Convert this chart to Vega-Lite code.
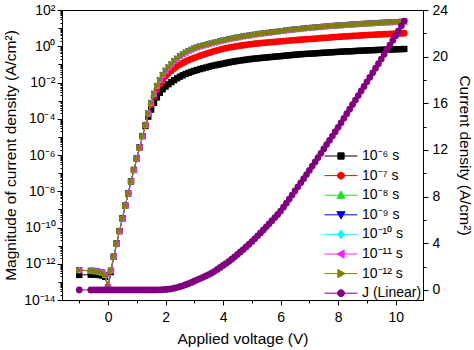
{
"$schema": "https://vega.github.io/schema/vega-lite/v6.json",
"width": 361, "height": 290,
"autosize": {"type": "none"},
"padding": {"left": 62, "top": 10, "right": 51, "bottom": 50},
"config": {
  "font": "Liberation Sans",
  "view": {"stroke": "black", "strokeWidth": 1},
  "axis": {"labelFont": "Liberation Sans", "labelFontSize": 14, "labelColor": "black", "titleFont": "Liberation Sans", "titleFontSize": 15.5, "titleFontWeight": "normal", "titleColor": "black", "domainColor": "black", "tickColor": "black", "grid": false, "labelOverlap": false, "labelFlush": false}
},
"data": {"values": [
{"V":-1,"a":2.4e-13,"b":4.4e-13,"c":4.4e-13},
{"V":-0.6,"a":2.5e-13,"b":4.1e-13,"c":4.1e-13},
{"V":-0.5,"a":2.5e-13,"b":4.0e-13,"c":4.0e-13},
{"V":-0.4,"a":2.5e-13,"b":3.8e-13,"c":3.8e-13},
{"V":-0.3,"a":2.4e-13,"b":3.5e-13,"c":3.5e-13},
{"V":-0.2,"a":2.2e-13,"b":3.2e-13,"c":3.2e-13},
{"V":-0.1,"a":1.9e-13,"b":2.4e-13,"c":2.4e-13},
{"V":0,"a":4.5e-14,"b":5e-14,"c":5e-14},
{"V":0.1,"a":3.5e-13,"b":4.2e-13,"c":4.2e-13},
{"V":0.2,"a":2.4e-12,"b":2.5e-12,"c":2.5e-12},
{"V":0.3,"a":1.3e-11,"b":1.3e-11,"c":1.3e-11},
{"V":0.4,"a":6.3e-11,"b":6.3e-11,"c":6.3e-11},
{"V":0.5,"a":3.2e-10,"b":3.2e-10,"c":3.2e-10},
{"V":0.6,"a":1.6e-9,"b":1.6e-9,"c":1.6e-9},
{"V":0.7,"a":7.6e-9,"b":7.6e-9,"c":7.6e-9},
{"V":0.8,"a":3.5e-8,"b":3.5e-8,"c":3.5e-8},
{"V":0.9,"a":1.5e-7,"b":1.5e-7,"c":1.5e-7},
{"V":1.0,"a":6.3e-7,"b":6.3e-7,"c":6.3e-7},
{"V":1.1,"a":2.6e-6,"b":2.6e-6,"c":2.6e-6},
{"V":1.2,"a":1.1e-5,"b":1.1e-5,"c":1.1e-5},
{"V":1.3,"a":4.0e-5,"b":4.3e-5,"c":4.5e-5},
{"V":1.4,"a":1.3e-4,"b":1.8e-4,"c":2.0e-4},
{"V":1.5,"a":3.2e-4,"b":6.0e-4,"c":7.5e-4},
{"V":1.6,"a":7.5e-4,"b":1.7e-3,"c":2.4e-3},
{"V":1.7,"a":1.5e-3,"b":4.0e-3,"c":6.5e-3},
{"V":1.8,"a":2.7e-3,"b":8.0e-3,"c":0.014},
{"V":1.9,"a":4.2e-3,"b":0.014,"c":0.026},
{"V":2.0,"a":6.0e-3,"b":0.022,"c":0.045},
{"V":2.1,"a":8.0e-3,"b":0.032,"c":0.068},
{"V":2.2,"a":0.0105,"b":0.045,"c":0.1},
{"V":2.3,"a":0.0135,"b":0.06,"c":0.15},
{"V":2.4,"a":0.017,"b":0.078,"c":0.21},
{"V":2.5,"a":0.021,"b":0.098,"c":0.28},
{"V":2.6,"a":0.025,"b":0.12,"c":0.36},
{"V":2.7,"a":0.0295,"b":0.145,"c":0.45},
{"V":2.8,"a":0.034,"b":0.172,"c":0.55},
{"V":2.9,"a":0.039,"b":0.2,"c":0.65},
{"V":3.0,"a":0.044,"b":0.23,"c":0.76},
{"V":3.1,"a":0.049,"b":0.26,"c":0.87},
{"V":3.2,"a":0.055,"b":0.3,"c":0.98},
{"V":3.3,"a":0.061,"b":0.34,"c":1.09},
{"V":3.4,"a":0.067,"b":0.38,"c":1.2},
{"V":3.5,"a":0.074,"b":0.43,"c":1.32},
{"V":3.6,"a":0.081,"b":0.48,"c":1.45},
{"V":3.7,"a":0.088,"b":0.54,"c":1.6},
{"V":3.8,"a":0.095,"b":0.6,"c":1.76},
{"V":3.9,"a":0.102,"b":0.66,"c":1.93},
{"V":4.0,"a":0.11,"b":0.72,"c":2.10},
{"V":4.1,"a":0.119,"b":0.78,"c":2.27},
{"V":4.2,"a":0.128,"b":0.84,"c":2.45},
{"V":4.3,"a":0.137,"b":0.9,"c":2.64},
{"V":4.4,"a":0.146,"b":0.96,"c":2.84},
{"V":4.5,"a":0.155,"b":1.02,"c":3.05},
{"V":4.6,"a":0.164,"b":1.08,"c":3.26},
{"V":4.7,"a":0.173,"b":1.14,"c":3.47},
{"V":4.8,"a":0.182,"b":1.2,"c":3.69},
{"V":4.9,"a":0.191,"b":1.26,"c":3.92},
{"V":5.0,"a":0.2,"b":1.32,"c":4.15},
{"V":5.1,"a":0.208,"b":1.38,"c":4.39},
{"V":5.2,"a":0.216,"b":1.43,"c":4.64},
{"V":5.3,"a":0.224,"b":1.49,"c":4.89},
{"V":5.4,"a":0.232,"b":1.54,"c":5.15},
{"V":5.5,"a":0.24,"b":1.6,"c":5.41},
{"V":5.6,"a":0.249,"b":1.65,"c":5.67},
{"V":5.7,"a":0.258,"b":1.71,"c":5.94},
{"V":5.8,"a":0.267,"b":1.76,"c":6.21},
{"V":5.9,"a":0.276,"b":1.82,"c":6.48},
{"V":6.0,"a":0.285,"b":1.87,"c":6.76},
{"V":6.1,"a":0.296,"b":1.93,"c":7.10},
{"V":6.2,"a":0.307,"b":1.99,"c":7.44},
{"V":6.3,"a":0.318,"b":2.05,"c":7.79},
{"V":6.4,"a":0.329,"b":2.12,"c":8.14},
{"V":6.5,"a":0.34,"b":2.19,"c":8.49},
{"V":6.6,"a":0.355,"b":2.24,"c":8.84},
{"V":6.7,"a":0.363,"b":2.29,"c":9.19},
{"V":6.8,"a":0.372,"b":2.40,"c":9.54},
{"V":6.9,"a":0.380,"b":2.45,"c":9.90},
{"V":7.0,"a":0.389,"b":2.51,"c":10.26},
{"V":7.1,"a":0.398,"b":2.57,"c":10.62},
{"V":7.2,"a":0.407,"b":2.63,"c":10.98},
{"V":7.3,"a":0.417,"b":2.75,"c":11.35},
{"V":7.4,"a":0.427,"b":2.82,"c":11.72},
{"V":7.5,"a":0.437,"b":2.88,"c":12.09},
{"V":7.6,"a":0.447,"b":2.95,"c":12.46},
{"V":7.7,"a":0.457,"b":3.02,"c":12.83},
{"V":7.8,"a":0.468,"b":3.16,"c":13.20},
{"V":7.9,"a":0.479,"b":3.24,"c":13.57},
{"V":8.0,"a":0.490,"b":3.31,"c":13.94},
{"V":8.1,"a":0.501,"b":3.39,"c":14.33},
{"V":8.2,"a":0.513,"b":3.47,"c":14.72},
{"V":8.3,"a":0.520,"b":3.55,"c":15.11},
{"V":8.4,"a":0.525,"b":3.63,"c":15.50},
{"V":8.5,"a":0.537,"b":3.72,"c":15.89},
{"V":8.6,"a":0.550,"b":3.80,"c":16.28},
{"V":8.7,"a":0.562,"b":3.89,"c":16.67},
{"V":8.8,"a":0.567,"b":3.98,"c":17.06},
{"V":8.9,"a":0.575,"b":4.07,"c":17.45},
{"V":9.0,"a":0.589,"b":4.17,"c":17.84},
{"V":9.1,"a":0.603,"b":4.27,"c":18.23},
{"V":9.2,"a":0.607,"b":4.30,"c":18.62},
{"V":9.3,"a":0.617,"b":4.37,"c":19.01},
{"V":9.4,"a":0.631,"b":4.47,"c":19.40},
{"V":9.5,"a":0.635,"b":4.57,"c":19.80},
{"V":9.6,"a":0.646,"b":4.68,"c":20.20},
{"V":9.7,"a":0.650,"b":4.72,"c":20.60},
{"V":9.8,"a":0.661,"b":4.79,"c":21.00},
{"V":9.9,"a":0.665,"b":4.90,"c":21.40},
{"V":10.0,"a":0.676,"b":5.01,"c":21.80},
{"V":10.1,"a":0.692,"b":5.05,"c":22.22},
{"V":10.2,"a":0.695,"b":5.13,"c":22.64},
{"V":10.3,"a":0.708,"b":5.25,"c":23.05}
]},
"encoding": {
  "x": {"field": "V", "type": "quantitative",
    "scale": {"domain": [-1.6, 10.95], "nice": false, "zero": false},
    "axis": {"values": [-1,0,1,2,3,4,5,6,7,8,9,10], "labelExpr": "datum.value % 2 == 0 ? datum.label : ''",
      "tickSize": {"condition": {"test": "datum.value % 2 == 0", "value": 5}, "value": 3},
      "title": "Applied voltage (V)", "labelPadding": 5, "titlePadding": 7}}
},
"layer": [
  {"layer": [
    {"encoding": {
      "y": {"field": "a", "type": "quantitative",
        "scale": {"type": "log", "domain": [1e-14, 100], "nice": false},
        "axis": {"orient": "left", "title": "Magnitude of current density (A/cm²)", "titlePadding": 5, "labelPadding": 2,
          "values": [1e-14,2e-14,3e-14,4e-14,5e-14,6e-14,7e-14,8e-14,9e-14,1e-13,2e-13,3e-13,4e-13,5e-13,6e-13,7e-13,8e-13,9e-13,1e-12,2e-12,3e-12,4e-12,5e-12,6e-12,7e-12,8e-12,9e-12,1e-11,2e-11,3e-11,4e-11,5e-11,6e-11,7e-11,8e-11,9e-11,1e-10,2e-10,3e-10,4e-10,5e-10,6e-10,7e-10,8e-10,9e-10,1e-9,2e-9,3e-9,4e-9,5e-9,6e-9,7e-9,8e-9,9e-9,1e-8,2e-8,3e-8,4e-8,5e-8,6e-8,7e-8,8e-8,9e-8,1e-7,2e-7,3e-7,4e-7,5e-7,6e-7,7e-7,8e-7,9e-7,1e-6,2e-6,3e-6,4e-6,5e-6,6e-6,7e-6,8e-6,9e-6,1e-5,2e-5,3e-5,4e-5,5e-5,6e-5,7e-5,8e-5,9e-5,1e-4,2e-4,3e-4,4e-4,5e-4,6e-4,7e-4,8e-4,9e-4,1e-3,2e-3,3e-3,4e-3,5e-3,6e-3,7e-3,8e-3,9e-3,0.01,0.02,0.03,0.04,0.05,0.06,0.07,0.08,0.09,0.1,0.2,0.3,0.4,0.5,0.6,0.7,0.8,0.9,1,2,3,4,5,6,7,8,9,10,20,30,40,50,60,70,80,90,100],
          "labelExpr": "abs(log(datum.value)/LN10 - round(log(datum.value)/LN10)) < 0.001 && round(log(datum.value)/LN10) % 2 == 0 ? {'2':'10²','0':'10⁰','-2':'10⁻²','-4':'10⁻⁴','-6':'10⁻⁶','-8':'10⁻⁸','-10':'10⁻¹⁰','-12':'10⁻¹²','-14':'10⁻¹⁴'}[toString(round(log(datum.value)/LN10))] : ''",
          "tickSize": {"condition": [{"test": "abs(log(datum.value)/LN10 - round(log(datum.value)/LN10)) < 0.001 && round(log(datum.value)/LN10) % 2 == 0", "value": 5}, {"test": "abs(log(datum.value)/LN10 - round(log(datum.value)/LN10)) < 0.001", "value": 4}], "value": 2}}},
      "color": {"datum": "10⁻⁶ s", "type": "nominal",
        "scale": {"domain": ["10⁻⁶ s","10⁻⁷ s","10⁻⁸ s","10⁻⁹ s","10⁻¹⁰ s","10⁻¹¹ s","10⁻¹² s","J (Linear)"],
                  "range": ["#000000","#ff0000","#22dd22","#0000dd","#22eeee","#ff22ff","#808000","#800080"]},
        "legend": {"title": null, "orient": "none", "legendX": 262, "legendY": 138, "labelFont": "Liberation Sans", "labelFontSize": 14, "labelColor": "black",
          "symbolSize": 1089, "clipHeight": 16, "rowPadding": 3.6, "labelOffset": 4, "symbolStrokeWidth": 1,
          "encode": {"symbols": {"update": {
            "shape": {"signal": "['M-1,0H1M-0.19,-0.19H0.19V0.19H-0.19Z','M-1,0H1M-0.21,0A0.21,0.21,0,1,0,0.21,0A0.21,0.21,0,1,0,-0.21,0Z','M-1,0H1M0,-0.25L0.25,0.19H-0.25Z','M-1,0H1M0,0.25L0.25,-0.19H-0.25Z','M-1,0H1M0,-0.26L0.21,0L0,0.26L-0.21,0Z','M-1,0H1M-0.25,0L0.19,-0.25V0.25Z','M-1,0H1M0.25,0L-0.19,-0.25V0.25Z','M-1,0H1M-0.21,0A0.21,0.21,0,1,0,0.21,0A0.21,0.21,0,1,0,-0.21,0Z'][indexof(['10⁻⁶ s','10⁻⁷ s','10⁻⁸ s','10⁻⁹ s','10⁻¹⁰ s','10⁻¹¹ s','10⁻¹² s','J (Linear)'], datum.value)]"},
            "stroke": {"signal": "scale('color', datum.value)"},
            "strokeWidth": {"value": 1},
            "opacity": {"value": 1}}}}}}},
     "layer": [{"mark": {"type": "line", "strokeWidth": 1}}, {"mark": {"type": "point", "shape": "square", "filled": true, "size": 40, "opacity": 1}}]},
    {"encoding": {"y": {"field": "b", "type": "quantitative"}, "color": {"datum": "10⁻⁷ s", "type": "nominal"}},
     "layer": [{"mark": {"type": "line", "strokeWidth": 1}}, {"mark": {"type": "point", "shape": "circle", "filled": true, "size": 45, "opacity": 1}}]},
    {"encoding": {"y": {"field": "c", "type": "quantitative"}, "color": {"datum": "10⁻⁸ s", "type": "nominal"}},
     "layer": [{"mark": {"type": "line", "strokeWidth": 1}}, {"mark": {"type": "point", "shape": "triangle-up", "filled": true, "size": 45, "opacity": 1}}]},
    {"encoding": {"y": {"field": "c", "type": "quantitative"}, "color": {"datum": "10⁻⁹ s", "type": "nominal"}},
     "layer": [{"mark": {"type": "line", "strokeWidth": 1}}, {"mark": {"type": "point", "shape": "triangle-down", "filled": true, "size": 45, "opacity": 1}}]},
    {"encoding": {"y": {"field": "c", "type": "quantitative"}, "color": {"datum": "10⁻¹⁰ s", "type": "nominal"}},
     "layer": [{"mark": {"type": "line", "strokeWidth": 1}}, {"mark": {"type": "point", "shape": "diamond", "filled": true, "size": 45, "opacity": 1}}]},
    {"encoding": {"y": {"field": "c", "type": "quantitative"}, "color": {"datum": "10⁻¹¹ s", "type": "nominal"}},
     "layer": [{"mark": {"type": "line", "strokeWidth": 1}}, {"mark": {"type": "point", "shape": "triangle-left", "filled": true, "size": 45, "opacity": 1}}]},
    {"encoding": {"y": {"field": "c", "type": "quantitative"}, "color": {"datum": "10⁻¹² s", "type": "nominal"}},
     "layer": [{"mark": {"type": "line", "strokeWidth": 1}}, {"mark": {"type": "point", "shape": "triangle-right", "filled": true, "size": 45, "opacity": 1}}]}
  ]},
  {"encoding": {
     "y": {"field": "c", "type": "quantitative",
       "scale": {"domain": [-0.86, 24], "nice": false, "zero": false},
       "axis": {"orient": "right", "title": "Current density (A/cm²)", "values": [0,2,4,6,8,10,12,14,16,18,20,22,24],
         "labelExpr": "datum.value % 4 == 0 ? datum.label : ''",
         "tickSize": {"condition": {"test": "datum.value % 4 == 0", "value": 5}, "value": 3},
         "labelPadding": 4, "titlePadding": 9}},
     "color": {"datum": "J (Linear)", "type": "nominal"}},
   "layer": [{"mark": {"type": "line", "strokeWidth": 1}}, {"mark": {"type": "point", "shape": "circle", "filled": true, "size": 45, "opacity": 1}}]}
],
"resolve": {"scale": {"y": "independent"}}
}
